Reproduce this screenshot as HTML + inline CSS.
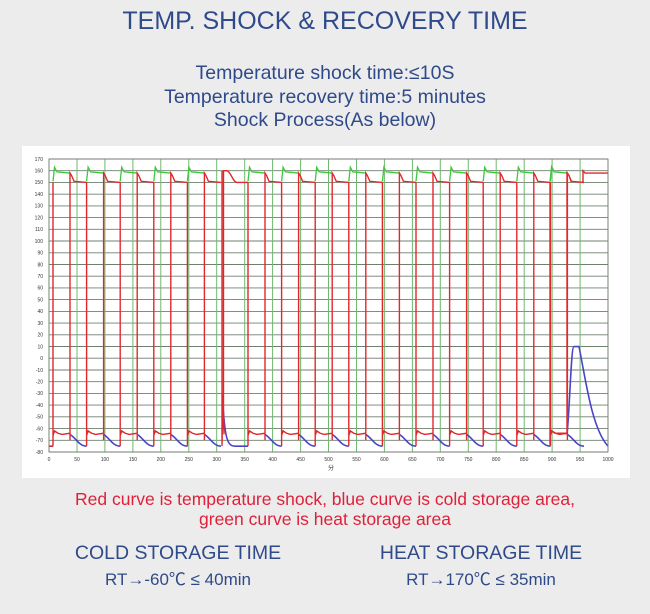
<!DOCTYPE html>
<html><head><meta charset="utf-8"><style>
body{margin:0;width:650px;height:614px;background:#ececec;font-family:"Liberation Sans","Noto Sans CJK SC",sans-serif;overflow:hidden;position:relative}
.t{position:absolute;left:0;width:650px;text-align:center;color:#2f4a8a;white-space:nowrap}
</style></head><body>
<div class="t" style="top:7px;font-size:25px;">TEMP. SHOCK &amp; RECOVERY TIME</div>
<div class="t" style="top:62px;font-size:19.5px;line-height:23.5px;">Temperature shock time:≤10S<br>Temperature recovery time:5 minutes<br>Shock Process(As below)</div>
<svg id="c" style="position:absolute;left:0;top:0" width="650" height="614"></svg>
<div class="t" style="top:490px;font-size:17.5px;line-height:19.5px;color:#e0203a">Red curve is temperature shock, blue curve is cold storage area,<br>green curve is heat storage area</div>
<div class="t" style="left:20px;top:542px;width:316px;font-size:19.5px">COLD STORAGE TIME</div>
<div class="t" style="left:20px;top:565px;width:316px;font-size:17px">RT→-60℃ ≤ 40min</div>
<div class="t" style="left:323px;top:542px;width:316px;font-size:19.5px">HEAT STORAGE TIME</div>
<div class="t" style="left:323px;top:565px;width:316px;font-size:17px">RT→170℃ ≤ 35min</div>
<script>
var s='';
function Y(v){return 159+(170-v)*1.172}
function X(u){return 49+u*0.559}
s+='<rect x="22" y="146" width="608" height="332" fill="#fff"/>';
for(var v=-80;v<=170;v+=10){var y=Y(v).toFixed(1);
s+='<line x1="49" x2="608" y1="'+y+'" y2="'+y+'" stroke="#6f7f6f" stroke-width="0.9"/>';
s+='<text x="43" y="'+(+y+1.8)+'" font-size="5" text-anchor="end" fill="#333">'+v+'</text>';}
for(var u=0;u<=1000;u+=50){var x=X(u).toFixed(1);
s+='<line y1="159" y2="452" x1="'+x+'" x2="'+x+'" stroke="#6fb86f" stroke-width="1"/>';
s+='<text x="'+x+'" y="461" font-size="5" text-anchor="middle" fill="#333">'+u+'</text>';}
s+='<text x="328" y="470" font-size="6" fill="#333">分</text>';
var R='',G='',B='';
var ts=[];for(var k=0;k<5;k++)ts.push(53+33.6*k);
var t2=[];for(var j=0;j<10;j++)t2.push(248+33.6*j);
R+='M49 '+Y(-75)+' L53 '+Y(-75)+' ';B+='M49 '+Y(-75)+' L53 '+Y(-75)+' ';
function cyc(t){
 var h=17;
 R+='M'+t+' '+Y(-75)+' L'+t+' '+Y(150)+' ';
 R+='M'+t+' '+Y(-66)+' L'+(t+1.5)+' '+Y(-62)+' L'+(t+5)+' '+Y(-64)+' L'+(t+9)+' '+Y(-65)+' L'+(t+h)+' '+Y(-64)+' ';
 R+='M'+(t+h)+' '+Y(-70)+' L'+(t+h)+' '+Y(158)+' L'+(t+h+1.5)+' '+Y(156)+' L'+(t+h+4)+' '+Y(151)+' L'+(t+h+16.6)+' '+Y(150)+' ';
 G+='M'+t+' '+Y(151)+' L'+(t+1.5)+' '+Y(163)+' L'+(t+4)+' '+Y(159)+' L'+(t+h)+' '+Y(158)+' ';
 B+='M'+(t+h)+' '+Y(-65)+' C'+(t+h+6)+' '+Y(-68)+' '+(t+h+9)+' '+Y(-75)+' '+(t+h+16.6)+' '+Y(-75)+' ';
}
ts.forEach(cyc);t2.forEach(cyc);
R+='M222 '+Y(-75)+' L222 '+Y(160)+' M223.5 '+Y(-60)+' L223.5 '+Y(160)+' L227 '+Y(160)+' C231 '+Y(159)+' 233 '+Y(150)+' 237 '+Y(150)+' L248 '+Y(150)+' ';
R+='M222 '+Y(-75)+' L223 '+Y(-30)+' L224 '+Y(-65)+' ';
B+='M223 '+Y(-40)+' C225 '+Y(-70)+' 228 '+Y(-75)+' 235 '+Y(-75)+' L248 '+Y(-75)+' ';
var t=550;
R+='M'+t+' '+Y(-75)+' L'+t+' '+Y(150)+' M'+t+' '+Y(-66)+' L'+(t+1.5)+' '+Y(-62)+' L'+(t+5)+' '+Y(-64)+' L567 '+Y(-64)+' ';
G+='M'+t+' '+Y(151)+' L'+(t+1.5)+' '+Y(163)+' L'+(t+4)+' '+Y(159)+' L567 '+Y(158)+' ';
R+='M567 '+Y(-65)+' L567 '+Y(158)+' L569 '+Y(156)+' L571 '+Y(151)+' L583 '+Y(150)+' L583 '+Y(160)+' L585 '+Y(158)+' L608 '+Y(158)+' ';
B+='M567 '+Y(-65)+' C570 '+Y(-40)+' 571 '+Y(10)+' 574 '+Y(10)+' L579 '+Y(10)+' C586 '+Y(-20)+' 592 '+Y(-60)+' 608 '+Y(-75)+' ';
s+='<path d="'+G+'" fill="none" stroke="#3cc83c" stroke-width="1.3"/>';
s+='<path d="'+B+'" fill="none" stroke="#4a44c8" stroke-width="1.6"/>';
s+='<path d="'+R+'" fill="none" stroke="#e0282c" stroke-width="1.4"/>';
s+='<rect x="49" y="159" width="559" height="293" fill="none" stroke="#777" stroke-width="0.8"/>';
document.getElementById('c').innerHTML=s;
</script>
</body></html>
